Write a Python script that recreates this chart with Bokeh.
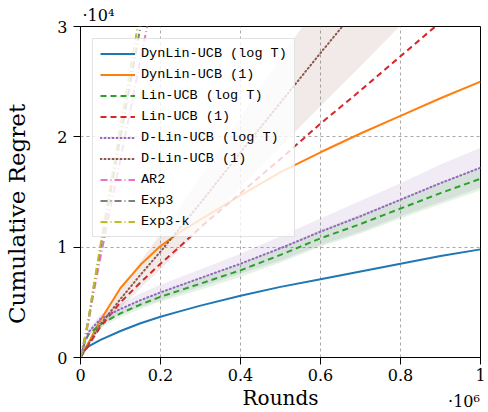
from bokeh.plotting import figure
from bokeh.models import Range1d, Legend, LegendItem, LinearAxis, FixedTicker
from bokeh.embed import file_html
from bokeh.resources import INLINE

# ---- data (rounds, cumulative regret) ----
rounds = [0, 10000, 20000, 50000, 100000, 150000, 200000, 250000, 300000, 400000,
          500000, 600000, 700000, 800000, 900000, 1000000]
dynlin_logT = [0, 650, 1000, 1600, 2400, 3100, 3700, 4200, 4700, 5600, 6400, 7100, 7800, 8500, 9200, 9800]
dynlin_1 = [0, 700, 1350, 3400, 6300, 8400, 10100, 11400, 12500, 14700, 16800, 18600, 20300, 21900, 23500, 25000]
lin_logT = [0, 1300, 2100, 3000, 4000, 4800, 5500, 6100, 6700, 7900, 9300, 10800, 12100, 13500, 14900, 16200]
lin_1 = [0, 600, 1100, 2800, 5000, 6800, 8500, 10100, 11800, 14900, 18000, 21200, 24200, 27300, 30400, 33500]
dlin_logT = [0, 1400, 2300, 3500, 4400, 5200, 5900, 6550, 7200, 8500, 9900, 11400, 12800, 14300, 15800, 17200]
dlin_1 = [0, 600, 1200, 3000, 5300, 7500, 9600, 11800, 14000, 18600, 23100, 27600, 32000, 36500, 41000, 45500]

lin_logT_std = [0, 150, 200, 300, 350, 400, 450, 500, 550, 600, 700, 750, 850, 900, 1000, 1050]
dlin_logT_std = [0, 200, 300, 400, 500, 600, 700, 750, 800, 900, 1100, 1200, 1400, 1500, 1700, 1800]
dlin_1_std = [0, 80, 160, 400, 800, 1200, 1600, 2000, 2400, 3200, 4000, 4800, 5600, 6400, 7200, 8000]

rounds_fast = [0, 10000, 20000, 32500, 50000, 100000, 150000, 200000]
ar2 = [0, 1500, 3200, 5800, 9100, 18000, 27000, 36000]
exp3 = [0, 1700, 3500, 6300, 9900, 20000, 30000, 40000]
exp3_k = [0, 1600, 3400, 6400, 10200, 21000, 31500, 42000]

x_ticks = [0, 200000, 400000, 600000, 800000, 1000000]
x_tick_labels = ["0", "0.2", "0.4", "0.6", "0.8", "1"]
y_ticks = [0, 10000, 20000, 30000]
y_tick_labels = ["0", "1", "2", "3"]
x_multiplier_pos = [958750]
x_multiplier = ["·10⁶"]

C = dict(blue="#1f77b4", orange="#ff7f0e", green="#2ca02c", red="#d62728",
         purple="#9467bd", brown="#8c564b", pink="#e377c2", gray="#7f7f7f", olive="#bcbd22")

serif = "DejaVu Serif"

p = figure(width=488, height=412, output_backend="svg", toolbar_location=None,
           x_range=Range1d(0, 1000000), y_range=Range1d(0, 30000),
           min_border_left=80, min_border_right=8, min_border_top=26, min_border_bottom=54)
p.background_fill_color = "white"
p.border_fill_color = "white"
p.outline_line_color = "black"
p.outline_line_width = 1
p.outline_line_alpha = 1

# top-left multiplier as the title
p.title.text = "·10⁴"
p.title.align = "left"
p.title.offset = 2
p.title.standoff = 3
p.title.text_font = serif
p.title.text_font_size = "16px"
p.title.text_font_style = "normal"
p.title.text_color = "black"

for ax, ticks, labels in ((p.xaxis, x_ticks, x_tick_labels), (p.yaxis, y_ticks, y_tick_labels)):
    ax.ticker = ticks
    ax.major_label_overrides = {t: l for t, l in zip(ticks, labels)}
    ax.major_label_text_font = serif
    ax.major_label_text_font_size = "16px"
    ax.major_label_text_color = "black"
    ax.axis_line_color = "black"
    ax.major_tick_line_color = "black"
    ax.major_tick_out = 7
    ax.major_tick_in = 0
    ax.minor_tick_line_color = None
    ax.axis_label_text_font = serif
    ax.axis_label_text_font_style = "normal"
    ax.axis_label_text_color = "black"
p.xaxis.major_label_standoff = 4
p.yaxis.major_label_standoff = 6
# trailing no-break spaces shift the centred label slightly downwards, as in the original
p.yaxis.axis_label = "Cumulative Regret" + "\u00a0" * 6
p.yaxis.axis_label_text_font_size = "23px"
p.yaxis.axis_label_standoff = 24

# second bottom axis: multiplier as its only tick label, "Rounds" pulled up onto the same row
lab = LinearAxis(ticker=FixedTicker(ticks=x_multiplier_pos),
                 major_label_overrides={t: l for t, l in zip(x_multiplier_pos, x_multiplier)},
                 axis_line_color=None, major_tick_line_color=None, minor_tick_line_color=None,
                 major_tick_out=0, major_tick_in=0, minor_tick_out=0, minor_tick_in=0,
                 major_label_standoff=8, major_label_text_font=serif,
                 major_label_text_font_size="16px", major_label_text_color="black",
                 axis_label="Rounds", axis_label_standoff=-28,
                 axis_label_text_font=serif, axis_label_text_font_size="20px",
                 axis_label_text_font_style="normal", axis_label_text_color="black")
p.add_layout(lab, "below")

p.xgrid.ticker = x_ticks
p.ygrid.ticker = y_ticks
for g in (p.xgrid, p.ygrid):
    g.grid_line_color = "#a8a8a8"
    g.grid_line_dash = "3 3"
    g.grid_line_width = 1

def band(y, s, color, alpha):
    lo = [a - b for a, b in zip(y, s)]
    hi = [a + b for a, b in zip(y, s)]
    p.varea(x=rounds, y1=lo, y2=hi, fill_color=color, fill_alpha=alpha)

band(dlin_1, dlin_1_std, C["brown"], 0.12)
band(dlin_logT, dlin_logT_std, C["purple"], 0.13)
band(lin_logT, lin_logT_std, C["green"], 0.13)

lw = 2
items = []
r = p.line(rounds, dynlin_logT, line_color=C["blue"], line_width=lw)
items.append(("DynLin-UCB (log T)", r))
r = p.line(rounds, dynlin_1, line_color=C["orange"], line_width=lw)
items.append(("DynLin-UCB (1)", r))
r = p.line(rounds, lin_logT, line_color=C["green"], line_width=lw, line_dash="6 4")
items.append(("Lin-UCB (log T)", r))
r = p.line(rounds, lin_1, line_color=C["red"], line_width=lw, line_dash="6 4")
items.append(("Lin-UCB (1)", r))
r = p.line(rounds, dlin_logT, line_color=C["purple"], line_width=lw, line_dash="1 3", line_cap="round")
items.append(("D-Lin-UCB (log T)", r))
r = p.line(rounds, dlin_1, line_color=C["brown"], line_width=lw, line_dash="1 3", line_cap="round")
items.append(("D-Lin-UCB (1)", r))
r = p.line(rounds_fast, ar2, line_color=C["pink"], line_width=lw, line_dash="7 3 1 3")
items.append(("AR2", r))
r = p.line(rounds_fast, exp3, line_color=C["gray"], line_width=lw, line_dash="7 3 1 3")
items.append(("Exp3", r))
r = p.line(rounds_fast, exp3_k, line_color=C["olive"], line_width=lw, line_dash="7 3 1 3")
items.append(("Exp3-k", r))

legend = Legend(items=[LegendItem(label=l, renderers=[rr]) for l, rr in items],
                location="top_left", margin=12, padding=7, spacing=6,
                glyph_width=35, glyph_height=15, label_height=15, label_standoff=6,
                label_text_font="Liberation Mono", label_text_font_size="13.5px",
                label_text_color="black",
                background_fill_color="white", background_fill_alpha=0.8,
                border_line_color="#c8c8c8", border_line_width=1)
p.add_layout(legend)

open("out.html", "w").write(file_html(p, INLINE))
